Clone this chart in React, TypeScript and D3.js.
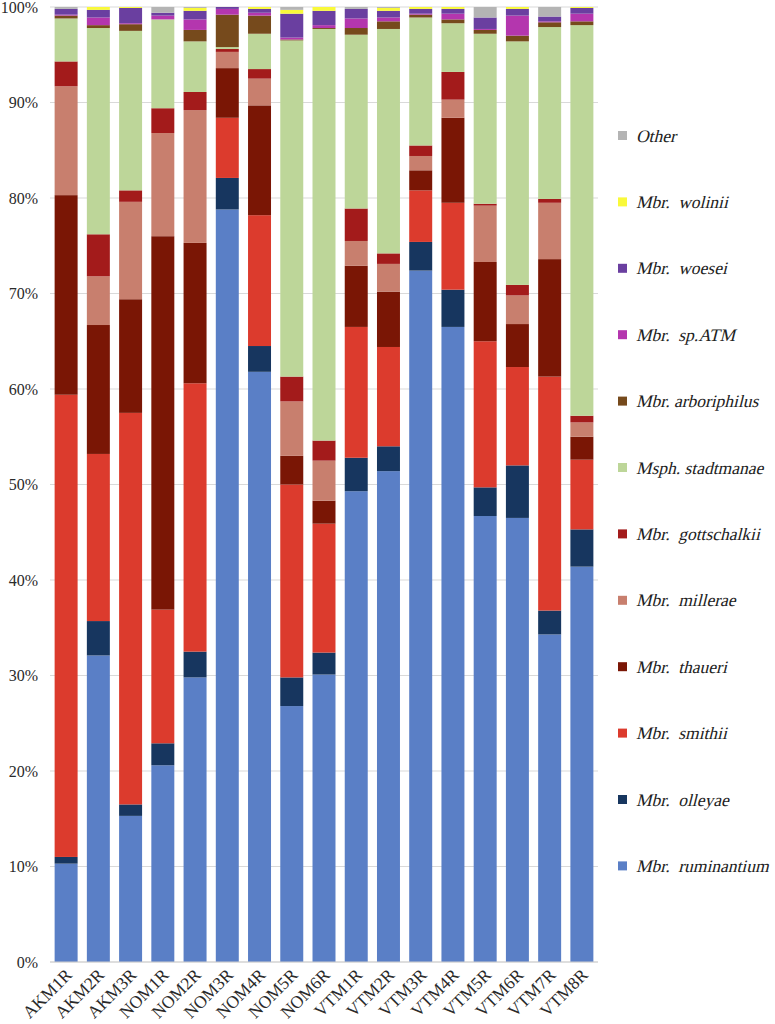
import React from 'react';
import * as d3 from 'd3';

// sample names along the x axis
const samples = [
  'AKM1R', 'AKM2R', 'AKM3R', 'NOM1R', 'NOM2R', 'NOM3R', 'NOM4R', 'NOM5R', 'NOM6R',
  'VTM1R', 'VTM2R', 'VTM3R', 'VTM4R', 'VTM5R', 'VTM6R', 'VTM7R', 'VTM8R',
];

// relative abundance (%) per taxon, one value per sample, bottom of stack first
const ruminantium = [10.3, 32.1, 15.3, 20.6, 29.8, 78.8, 61.8, 26.8, 30.1, 49.3, 51.4, 72.4, 66.5, 46.7, 46.5, 34.3, 41.4];
const olleyae = [0.7, 3.6, 1.2, 2.3, 2.7, 3.3, 2.7, 3.0, 2.3, 3.5, 2.6, 3.0, 3.9, 3.0, 5.5, 2.5, 3.9];
const smithii = [48.4, 17.5, 41.0, 14.0, 28.1, 6.3, 13.7, 20.2, 13.5, 13.7, 10.4, 5.4, 9.1, 15.3, 10.3, 24.5, 7.3];
const thaueri = [20.9, 13.5, 11.9, 39.1, 14.7, 5.2, 11.5, 3.0, 2.4, 6.4, 5.8, 2.1, 8.9, 8.3, 4.5, 12.3, 2.4];
const millerae = [11.4, 5.1, 10.2, 10.8, 13.9, 1.7, 2.8, 5.7, 4.2, 2.6, 2.9, 1.5, 1.9, 5.9, 3.0, 5.9, 1.5];
const gottschalkii = [2.6, 4.4, 1.2, 2.6, 1.9, 0.3, 1.0, 2.6, 2.1, 3.4, 1.1, 1.1, 2.9, 0.2, 1.1, 0.4, 0.7];
const stadtmanae = [4.5, 21.6, 16.7, 9.3, 5.3, 0.2, 3.7, 35.2, 43.1, 18.2, 23.5, 13.4, 5.1, 17.8, 25.5, 18.0, 40.9];
const arboriphilus = [0.3, 0.3, 0.7, 0.0, 1.2, 3.4, 1.9, 0.1, 0.1, 0.7, 0.8, 0.3, 0.4, 0.4, 0.6, 0.5, 0.4];
const spATM = [0.1, 0.8, 0.1, 0.4, 1.1, 0.6, 0.3, 0.2, 0.3, 1.0, 0.4, 0.1, 0.6, 0.1, 2.1, 0.1, 0.8];
const woesei = [0.6, 0.8, 1.6, 0.3, 0.9, 0.2, 0.4, 2.5, 1.5, 1.0, 0.7, 0.5, 0.5, 1.2, 0.7, 0.5, 0.6];
const wolinii = [0.0, 0.3, 0.1, 0.0, 0.3, 0.0, 0.2, 0.4, 0.4, 0.0, 0.3, 0.2, 0.2, 0.0, 0.2, 0.0, 0.1];
const other = [0.2, 0.0, 0.0, 0.6, 0.1, 0.0, 0.0, 0.3, 0.0, 0.2, 0.1, 0.0, 0.0, 1.1, 0.0, 1.0, 0.0];

const seriesKeys = [
  'ruminantium', 'olleyae', 'smithii', 'thaueri', 'millerae', 'gottschalkii',
  'stadtmanae', 'arboriphilus', 'spATM', 'woesei', 'wolinii', 'other',
];
const seriesValues: Record<string, number[]> = {
  ruminantium, olleyae, smithii, thaueri, millerae, gottschalkii,
  stadtmanae, arboriphilus, spATM, woesei, wolinii, other,
};
const seriesLabels: Record<string, string> = {
  ruminantium: 'Mbr.  ruminantium',
  olleyae: 'Mbr.  olleyae',
  smithii: 'Mbr.  smithii',
  thaueri: 'Mbr.  thaueri',
  millerae: 'Mbr.  millerae',
  gottschalkii: 'Mbr.  gottschalkii',
  stadtmanae: 'Msph. stadtmanae',
  arboriphilus: 'Mbr. arboriphilus',
  spATM: 'Mbr.  sp.ATM',
  woesei: 'Mbr.  woesei',
  wolinii: 'Mbr.  wolinii',
  other: 'Other',
};
const seriesColors: Record<string, string> = {
  ruminantium: '#5a7fc6',
  olleyae: '#17365f',
  smithii: '#dc3b2d',
  thaueri: '#7a1605',
  millerae: '#c87f6e',
  gottschalkii: '#a31b1b',
  stadtmanae: '#bdd699',
  arboriphilus: '#764a1c',
  spATM: '#b436ae',
  woesei: '#6a3fa0',
  wolinii: '#f9f93a',
  other: '#b4b4b4',
};

const yTicks = [0, 10, 20, 30, 40, 50, 60, 70, 80, 90, 100];

const W = 775;
const H = 1024;
const plot = { left: 50, right: 598, top: 7, bottom: 962 };
const serif = '"Liberation Serif", "Times New Roman", Times, serif';

export default function App() {
  const rows = samples.map((s, i) => {
    const r: Record<string, number | string> = { sample: s };
    seriesKeys.forEach(k => { r[k] = seriesValues[k][i]; });
    return r;
  });
  const stacked = d3.stack<Record<string, any>>().keys(seriesKeys)(rows);

  const x = d3.scaleBand<string>()
    .domain(samples)
    .range([plot.left, plot.right])
    .paddingInner(0.287)
    .paddingOuter(0.1435);
  const y = d3.scaleLinear().domain([0, 100]).range([plot.bottom, plot.top]);

  const legendKeys = [...seriesKeys].reverse();

  return (
    <svg width={W} height={H}
      style={{ position: 'absolute', left: 0, top: 0, display: 'block', background: '#fff' }}>
      {/* gridlines */}
      {yTicks.map(t => (
        <line key={t} x1={plot.left} x2={plot.right} y1={y(t)} y2={y(t)}
          stroke="#d9d9d9" strokeWidth={1} />
      ))}
      {/* stacked bars */}
      {stacked.map(layer => (
        <g key={layer.key} fill={seriesColors[layer.key]}>
          {layer.map((d, i) => {
            const h = y(d[0]) - y(d[1]);
            if (h <= 0) return null;
            return (
              <rect key={i} x={x(samples[i])} width={x.bandwidth()}
                y={y(d[1])} height={h} />
            );
          })}
        </g>
      ))}
      <line x1={plot.left} x2={plot.right} y1={y(0)} y2={y(0)} stroke="#d0d0d0" />
      {/* y tick labels */}
      {yTicks.map(t => (
        <text key={t} x={plot.left - 12} y={y(t)} dy="0.35em" textAnchor="end"
          fontFamily={serif} fontSize={16} fill="#2a2a2a">{`${t}%`}</text>
      ))}
      {/* x labels */}
      {samples.map(s => {
        const cx = (x(s) as number) + x.bandwidth() / 2 + 7;
        const cy = y(0) + 14;
        return (
          <text key={s} transform={`translate(${cx},${cy}) rotate(-45)`} textAnchor="end"
            fontFamily={serif} fontSize={17.5} fill="#2a2a2a">{s}</text>
        );
      })}
      {/* legend; italic drawn as a skewed serif face */}
      {legendKeys.map((k, i) => {
        const ly = 135.5 + i * 66.4;
        return (
          <g key={k} transform={`translate(618,${ly})`}>
            <rect x={0} y={-4.5} width={9} height={9} fill={seriesColors[k]} />
            <g transform="translate(18,6) skewX(-14)">
              <text x={0} y={0} fontFamily={serif} fontSize={17.5}
                fill="#222" style={{ whiteSpace: 'pre' }}>{seriesLabels[k]}</text>
            </g>
          </g>
        );
      })}
    </svg>
  );
}
